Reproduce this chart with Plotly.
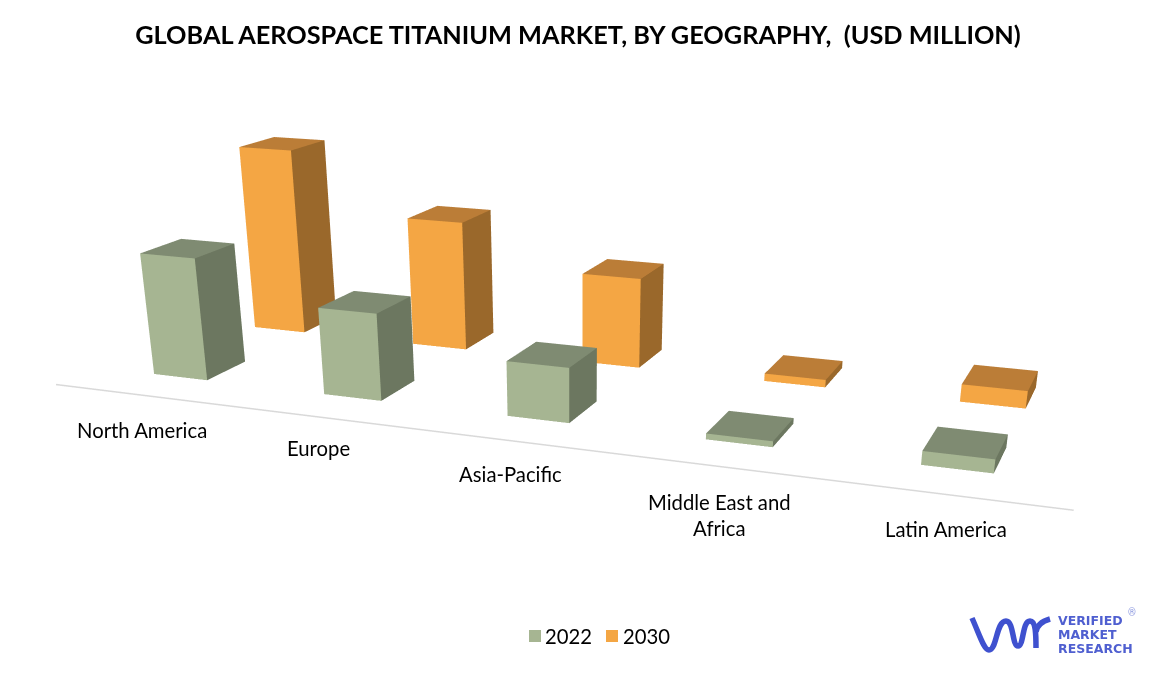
import math
import plotly.graph_objects as go

W, H = 1156, 687
# the scene runs on past the bottom of the window: plotly's fixed 45 degree lens
# is too wide for this chart unless the scene is taller than the picture
FIG_H = 1400

categories = ["North America", "Europe", "Asia-Pacific", "Middle East and<br>Africa", "Latin America"]
years = ["2022", "2030"]
values_2022 = [120, 84, 52, 5.5, 12.5]
values_2030 = [191, 131, 90, 7.5, 17]

label_px = [(142, 430), (318, 448), (510, 474), (719, 515), (946, 529)]

faces_2022 = {"front": "#A6B592", "side": "#6C7760", "top": "#7F8B72"}
faces_2030 = {"front": "#F4A644", "side": "#9A682B", "top": "#BB7D37"}

BAR_W = 0.32
BAR_D = 0.36
ROW_GAP = 0.98


def box_trace(i, row, value, faces, name):
    """One bar as a mesh, coloured per face so it looks like the office 3D chart."""
    x0, x1 = i - BAR_W / 2, i + BAR_W / 2
    y0, y1 = row * ROW_GAP, row * ROW_GAP + BAR_D
    z0, z1 = 0, value
    xs = [x0, x1, x1, x0, x0, x1, x1, x0]
    ys = [y0, y0, y1, y1, y0, y0, y1, y1]
    zs = [z0, z0, z0, z0, z1, z1, z1, z1]
    # front, right side, top
    ii = [0, 0, 1, 1, 4, 4]
    jj = [1, 5, 2, 6, 5, 6]
    kk = [5, 4, 6, 5, 6, 7]
    cols = [faces["front"]] * 2 + [faces["side"]] * 2 + [faces["top"]] * 2
    return go.Mesh3d(
        x=xs, y=ys, z=zs, i=ii, j=jj, k=kk, facecolor=cols, flatshading=True,
        lighting=dict(ambient=1, diffuse=0, specular=0, fresnel=0),
        hoverinfo="skip", name=name, showlegend=False,
    )


fig = go.Figure()
for i, v in enumerate(values_2030):
    fig.add_trace(box_trace(i, 1, v, faces_2030, "2030"))
for i, v in enumerate(values_2022):
    fig.add_trace(box_trace(i, 0, v, faces_2022, "2022"))

# floor line along the front of the chart
fig.add_trace(go.Scatter3d(
    x=[-0.52, 4.54], y=[-0.33, -0.33], z=[0, 0], mode="lines",
    line=dict(color="#D9D9D9", width=3), hoverinfo="skip", showlegend=False,
))

az = math.radians(21)
horiz = 2.7
eye_z = 0.596
center_z = -0.78
shift_x = 0.018
hidden = dict(visible=False)
fig.update_layout(
    width=W, height=FIG_H,
    margin=dict(l=0, r=0, t=0, b=0),
    paper_bgcolor="white",
    font=dict(family="Lato", color="black"),
    showlegend=False,
    scene=dict(
        domain=dict(x=[0, 1], y=[0, 1]),
        xaxis=dict(hidden, range=[-0.7, 4.6]),
        yaxis=dict(hidden, range=[-0.6, 1.6]),
        zaxis=dict(hidden, range=[0, 250]),
        aspectmode="manual",
        aspectratio=dict(x=1.72, y=0.74, z=0.42),
        camera=dict(
            eye=dict(x=horiz * math.sin(az) + shift_x, y=-horiz * math.cos(az), z=eye_z),
            center=dict(x=shift_x, y=0, z=center_z),
            up=dict(x=0, y=0, z=1),
        ),
    ),
    title=dict(
        text="<b>GLOBAL AEROSPACE TITANIUM MARKET, BY GEOGRAPHY,  (USD MILLION)</b>",
        x=578 / W, xanchor="center", y=1 - 35 / FIG_H, yanchor="middle",
        font=dict(size=25.3, family="Lato", color="black"),
    ),
)


def px(x, y):
    return x / W, 1 - y / FIG_H


def add_text(text, x, y, size, family="Lato", color="black", xanchor="center"):
    ax, ay = px(x, y)
    fig.add_annotation(text=text, x=ax, y=ay, xref="paper", yref="paper", showarrow=False,
                       xanchor=xanchor, yanchor="middle", align="center",
                       font=dict(size=size, family=family, color=color))


for text, (lx, ly) in zip(categories, label_px):
    add_text(text, lx, ly, 20.3)

# legend
for year, col, sx, tx in zip(years, [faces_2022["front"], faces_2030["front"]], [529, 606], [568, 646]):
    x0, y0 = px(sx, 630)
    x1, y1 = px(sx + 12, 642)
    fig.add_shape(type="rect", xref="paper", yref="paper", x0=x0, x1=x1, y0=y0, y1=y1,
                  fillcolor=col, line=dict(width=0))
    add_text(year, tx, 636, 20.3)

# logo mark
LOGO = "#3F51CF"


def curve(start, *segments):
    path = "M %f,%f" % px(*start)
    for seg in segments:
        path += " C " + " ".join("%f,%f" % px(a, b) for a, b in seg)
    return path


logo_paths = [
    curve((972, 618),
          [(980, 636), (984, 650), (989, 650)],
          [(997, 650), (996, 621), (1006, 621)],
          [(1014, 621), (1012, 646), (1018, 646)],
          [(1024, 646), (1022, 621), (1030, 621)],
          [(1036, 621), (1036, 635), (1036, 648)]),
    curve((1036, 632), [(1037, 624), (1043, 621), (1050, 619)]),
]
for path in logo_paths:
    fig.add_shape(type="path", xref="paper", yref="paper", path=path, line=dict(color=LOGO, width=5.5))
for text, ly in [("VERIFIED", 621), ("MARKET", 635), ("RESEARCH", 649)]:
    add_text("<b>%s</b>" % text, 1056, ly, 12.5, family="DejaVu Sans", color="#4F5FD0", xanchor="left")
add_text("®", 1132, 612, 10, family="Roboto", color="#8F9BE0")

fig.write_html(
    "out.html",
    config=dict(displayModeBar=False),
    post_script="document.body.style.margin='0';document.documentElement.style.overflow='hidden';",
)
